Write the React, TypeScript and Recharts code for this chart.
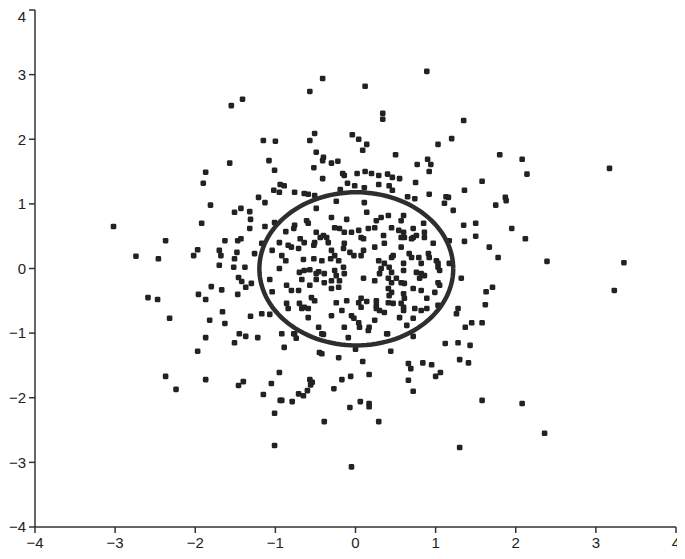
import React from "react";
import { ScatterChart, Scatter, XAxis, YAxis } from "recharts";

const X_TICKS = [-4, -3, -2, -1, 0, 1, 2, 3, 4];
const Y_TICKS = [-4, -3, -2, -1, 0, 1, 2, 3, 4];

// Sample point coordinates [x, y]
const POINTS: [number, number][] = [
  [0.89, 3.05], [-0.41, 2.94], [-0.57, 2.74], [0.12, 2.82], [0.34, 2.4], [0.34, 2.31], [-0.51, 2.09], [-0.57, 1.98],
  [-0.04, 2.07], [0.04, 2.0], [0.14, 1.92], [0.09, 1.83], [1.2, 2.01], [1.03, 1.92], [-0.49, 1.8], [-0.4, 1.72],
  [-0.41, 1.67], [-0.3, 1.63], [-0.22, 1.66], [0.5, 1.76], [0.77, 1.61], [0.9, 1.69], [0.94, 1.61], [0.92, 1.5],
  [-0.52, 1.56], [-0.41, 1.39], [-0.16, 1.47], [-0.14, 1.44], [0.02, 1.47], [0.12, 1.5], [0.2, 1.47], [0.29, 1.44],
  [0.4, 1.46], [0.46, 1.41], [0.55, 1.39], [0.75, 1.33], [-0.1, 1.32], [-0.01, 1.28], [0.11, 1.25], [0.29, 1.3],
  [0.42, 1.28], [0.46, 1.21], [-0.89, 1.28], [-0.76, 1.18], [-0.64, 1.16], [-0.59, 1.15], [-0.51, 1.13], [-0.19, 1.22],
  [0.92, 1.15], [1.13, 1.11], [0.65, 1.11],
  [-1.41, 2.62], [-1.55, 2.52], [-1.15, 1.98], [-1.0, 1.97], [-1.57, 1.63], [-1.08, 1.67], [-1.01, 1.52], [-1.87, 1.49],
  [-1.9, 1.32], [-0.94, 1.3], [-1.02, 1.21], [-0.95, 1.18], [-1.21, 1.1],
  [1.35, 2.29], [1.8, 1.76], [2.08, 1.69], [2.14, 1.46], [3.17, 1.55], [1.58, 1.35], [1.36, 1.21], [1.87, 1.1],
  [1.75, 0.98], [1.88, 1.05], [1.35, 0.67], [1.5, 0.7], [1.95, 0.62], [2.12, 0.46], [1.36, 0.42], [1.5, 0.5],
  [1.67, 0.33], [1.78, 0.17], [2.39, 0.11], [3.35, 0.09], [1.32, -0.15], [1.63, -0.36], [1.71, -0.29], [3.23, -0.34],
  [1.62, -0.56], [1.45, -0.84], [1.58, -0.84], [1.37, -0.91],
  [-3.02, 0.65], [-1.81, 0.98], [-1.92, 0.7], [-2.37, 0.43], [-2.74, 0.19], [-2.46, 0.15], [-1.97, 0.29], [-2.02, 0.2],
  [-1.51, 0.87], [-1.43, 0.93], [-1.32, 0.88], [-1.31, 0.76], [-1.32, 0.62], [-1.13, 1.02], [-1.13, 0.65], [-1.01, 0.71],
  [-1.63, 0.43], [-1.47, 0.43], [-1.43, 0.46], [-1.7, 0.28], [-1.68, 0.2], [-1.48, 0.25], [-1.51, 0.15], [-1.52, 0.02],
  [-1.7, 0.05], [-1.38, 0.02], [-1.26, 0.23], [-1.17, 0.39], [-1.04, 0.28], [-0.95, 0.4], [-0.95, 0.0], [-1.46, -0.14],
  [-1.42, -0.2], [-1.37, -0.29], [-1.3, -0.23], [-1.07, -0.17], [-1.04, -0.36], [-1.8, -0.28], [-1.67, -0.33], [-1.47, -0.4],
  [-1.96, -0.4], [-1.87, -0.48], [-2.59, -0.45], [-2.47, -0.48], [-1.66, -0.67], [-2.32, -0.77], [-1.82, -0.8], [-1.63, -0.85],
  [-1.31, -0.74], [-1.17, -0.7], [-1.07, -0.71],
  [-1.87, -1.07], [-1.45, -1.01], [-1.37, -1.05], [-1.22, -1.07], [-1.51, -1.15], [-1.97, -1.28], [-2.37, -1.67], [-2.24, -1.87],
  [-1.87, -1.72], [-1.46, -1.81], [-1.4, -1.75], [-1.05, -1.78], [-0.95, -1.61], [-1.15, -1.95], [-0.94, -2.04], [-1.01, -2.24],
  [-1.01, -2.74],
  [-0.89, -1.22], [-0.74, -1.08], [-0.77, -1.01], [-0.92, -1.01], [-0.45, -1.3], [-0.42, -1.32], [-0.4, -1.02], [-0.09, -1.07],
  [0.16, -0.96], [0.4, -1.01], [0.72, -1.05], [-0.21, -1.38], [0.0, -1.25], [0.09, -1.44], [0.44, -1.28], [1.12, -1.16],
  [1.28, -1.15], [1.3, -1.41], [0.66, -1.47], [0.69, -1.55], [0.84, -1.46], [0.95, -1.49], [1.0, -1.67], [1.06, -1.61],
  [0.66, -1.73], [0.72, -1.9], [-0.06, -1.67], [0.17, -1.64], [-0.17, -1.72], [-0.27, -1.86], [-0.57, -1.72], [-0.54, -1.76],
  [-0.56, -1.8], [-0.6, -1.89], [-0.65, -1.97], [-0.71, -1.94], [-0.92, -2.04], [-0.79, -2.06], [0.06, -2.06], [0.17, -2.09],
  [0.17, -2.14], [-0.07, -2.15], [-0.39, -2.37], [0.29, -2.37], [1.3, -2.77], [-0.05, -3.07],
  [1.43, -1.19], [1.41, -1.46], [1.58, -2.04], [2.08, -2.09], [2.36, -2.55],
  [-0.49, 0.93], [-0.24, 1.04], [-0.61, 0.74], [-0.59, 0.7], [-0.76, 0.67], [-0.77, 0.62], [-0.87, 0.57], [-0.3, 0.79],
  [-0.11, 0.76], [-0.26, 0.63], [-0.2, 0.62], [-0.14, 0.56], [-0.05, 0.56], [-0.49, 0.56], [-0.44, 0.48], [-0.4, 0.51],
  [-0.36, 0.48], [-0.34, 0.4], [-0.69, 0.46], [-0.64, 0.4], [-0.84, 0.36], [-0.8, 0.33], [-0.51, 0.4], [-0.52, 0.36],
  [-0.14, 0.39], [-0.15, 0.31], [0.04, 0.59], [0.07, 0.48], [0.1, 0.46], [0.16, 0.62], [0.14, 0.87], [0.11, 1.02],
  [-0.3, 0.28], [-0.26, 0.2], [-0.31, 0.15], [-0.21, 0.12], [-0.71, 0.31], [-0.65, 0.14], [-0.52, 0.15], [-0.07, 0.25],
  [-0.02, 0.2], [0.1, 0.28], [0.07, 0.2], [-0.92, 0.2], [-0.87, 0.12], [-0.42, 0.12],
  [0.74, 1.08], [1.11, 1.01], [1.16, 1.1], [1.22, 0.9], [0.26, 0.74], [0.32, 0.79], [0.41, 0.82], [0.6, 0.82],
  [0.57, 0.74], [0.24, 0.63], [0.45, 0.63], [0.54, 0.59], [0.6, 0.56], [0.57, 0.48], [0.61, 0.48], [0.72, 0.62],
  [0.85, 0.7], [0.86, 0.56], [0.86, 0.48], [0.72, 0.48], [0.76, 0.51], [0.7, 0.46], [0.35, 0.51], [0.36, 0.39],
  [0.24, 0.33], [0.57, 0.33], [0.97, 0.39], [1.17, 0.43], [0.47, 0.2], [0.45, 0.17], [0.67, 0.23], [0.7, 0.17],
  [0.79, 0.17], [0.91, 0.23], [0.92, 0.17], [1.01, 0.12], [1.03, 0.08], [0.29, 0.12], [0.36, 0.08], [0.6, 0.08],
  [1.17, 0.08], [0.82, 0.08],
  [-0.7, -0.06], [-0.64, -0.03], [-0.57, -0.02], [-0.46, -0.05], [-0.49, -0.08], [-0.39, -0.08], [-0.26, -0.03], [-0.24, -0.11],
  [-0.15, 0.02], [-0.14, -0.08], [-0.67, -0.17], [-0.49, -0.17], [-0.39, -0.22], [-0.3, -0.19], [-0.2, -0.19], [0.1, -0.15],
  [-0.86, -0.26], [-0.8, -0.34], [-0.71, -0.34], [-0.57, -0.26], [-0.3, -0.31], [-0.21, -0.29], [-0.55, -0.45], [-0.51, -0.5],
  [-0.24, -0.53], [-0.11, -0.5], [0.04, -0.53], [0.07, -0.46], [0.14, -0.51], [-0.86, -0.54], [-0.84, -0.62], [-0.7, -0.54],
  [-0.64, -0.6], [-0.59, -0.62], [-0.67, -0.62], [-0.17, -0.65], [0.07, -0.6], [-0.59, -0.76], [-0.3, -0.73], [-0.05, -0.73],
  [-0.02, -0.77], [0.04, -0.84], [0.05, -0.91], [-0.14, -0.91], [-0.46, -0.91], [0.17, -0.91], [-0.76, -1.01], [-0.42, -1.01],
  [0.32, 0.0], [0.3, -0.08], [0.42, 0.02], [0.45, -0.06], [0.6, -0.03], [0.76, -0.06], [0.82, -0.08], [0.8, -0.15],
  [0.86, -0.11], [1.03, 0.02], [1.05, -0.03], [0.24, -0.19], [0.41, -0.15], [0.45, -0.22], [0.51, -0.15], [0.57, -0.22],
  [0.61, -0.23], [0.72, -0.31], [0.82, -0.34], [1.03, -0.22], [1.05, -0.26], [0.99, -0.37], [0.41, -0.31], [0.45, -0.37],
  [0.42, -0.42], [0.6, -0.39], [0.61, -0.46], [0.89, -0.46], [0.26, -0.5], [0.26, -0.57], [0.41, -0.53], [0.47, -0.54],
  [0.57, -0.54], [0.6, -0.6], [0.6, -0.65], [0.74, -0.62], [0.82, -0.65], [0.89, -0.62], [0.26, -0.62], [0.3, -0.65],
  [0.36, -0.68], [0.55, -0.76], [0.72, -0.77], [1.03, -0.57], [1.28, -0.62], [1.26, -0.7], [0.24, -0.8], [0.64, -0.88],
  [0.39, -1.01],
];

// Fitted ellipse parameters
const ELLIPSE_CX = 0.01;
const ELLIPSE_CY = -0.005;
const ELLIPSE_RX = 1.21;
const ELLIPSE_RY = 1.185;
const ELLIPSE_STEPS = 120;

const scatterData = POINTS.map(([x, y]) => ({ x, y }));
const ellipseData = Array.from({ length: ELLIPSE_STEPS + 1 }, (_, i) => {
  const t = (i / ELLIPSE_STEPS) * Math.PI * 2;
  return { x: ELLIPSE_CX + ELLIPSE_RX * Math.cos(t), y: ELLIPSE_CY + ELLIPSE_RY * Math.sin(t) };
});

const fmt = (v: number) => (v < 0 ? "\u2212" + Math.abs(v) : String(v));

const Dot = (props: any) => {
  const { cx, cy } = props;
  if (cx == null || cy == null) return <g />;
  return <rect x={cx - 2.8} y={cy - 2.8} width={5.6} height={5.6} rx={1.4} fill="#222" />;
};

const NoShape = () => <g />;

export default function App() {
  const tickStyle = { fill: "#222", fontSize: 15, fontFamily: "Liberation Sans, Arial, sans-serif" };
  return (
    <div style={{ width: 677, height: 551 }}>
      <ScatterChart width={677} height={551} margin={{ top: 2, right: 9, bottom: 2, left: 0 }}>
        <XAxis
          type="number"
          dataKey="x"
          domain={[-4, 4]}
          ticks={X_TICKS}
          tickFormatter={fmt}
          allowDataOverflow
          height={30}
          stroke="#333"
          strokeWidth={1.5}
          tickSize={6}
          tickMargin={4}
          tick={tickStyle}
        />
        <YAxis
          type="number"
          dataKey="y"
          domain={[-4, 4]}
          ticks={Y_TICKS}
          tickFormatter={fmt}
          allowDataOverflow
          width={27}
          stroke="#333"
          strokeWidth={1.5}
          tickSize={6}
          tickMargin={3}
          tick={tickStyle}
        />
        <Scatter data={scatterData} shape={Dot} isAnimationActive={false} />
        <Scatter
          data={ellipseData}
          line={{ stroke: "#2e2e2e", strokeWidth: 4.5 }}
          lineType="joint"
          shape={NoShape}
          isAnimationActive={false}
        />
      </ScatterChart>
    </div>
  );
}
